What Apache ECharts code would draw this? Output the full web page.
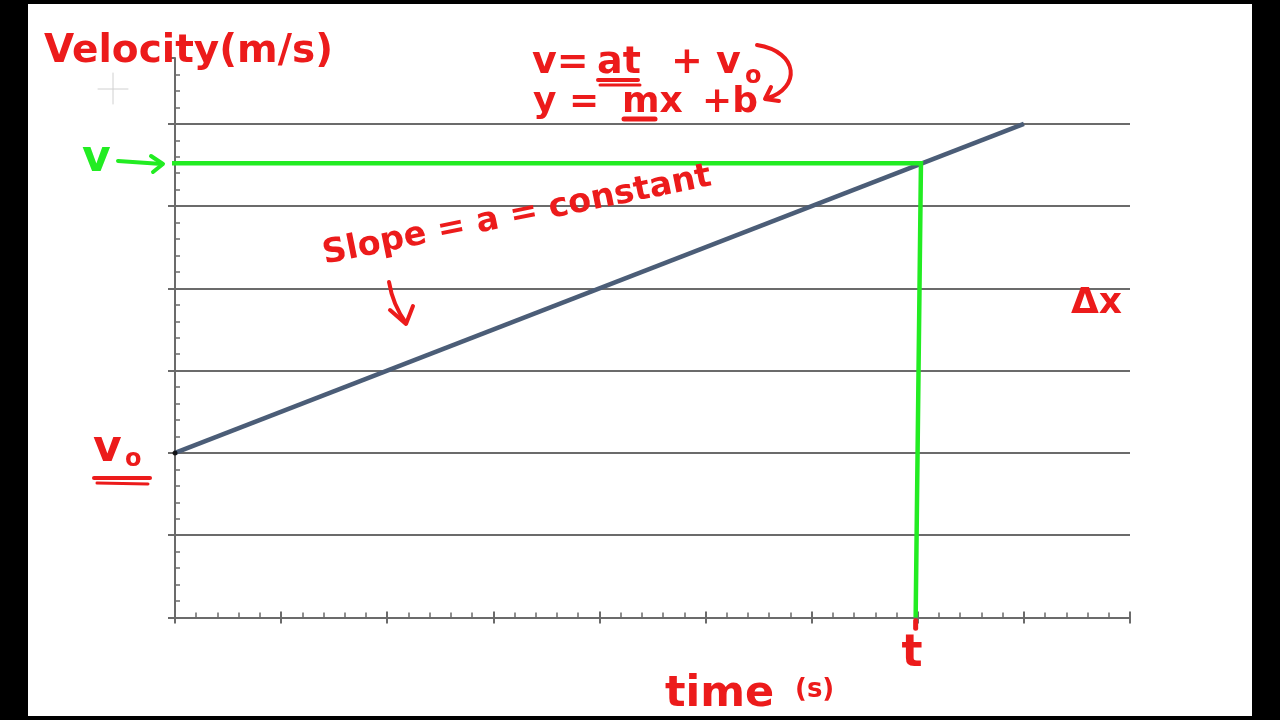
<!DOCTYPE html>
<html><head><meta charset="utf-8">
<script src="https://cdn.jsdelivr.net/npm/echarts@6/dist/echarts.min.js"></script>
<style>
html,body{margin:0;padding:0;background:#000;width:1280px;height:720px;overflow:hidden}
#paper{position:absolute;left:28px;top:4px;width:1224px;height:712px;background:#fff}
#chart{position:absolute;left:0;top:0;width:1280px;height:720px}
</style></head><body>
<div id="paper"></div><div id="chart"></div>
<script>
// ---- data ----
const timeRange = [0, 9];          // time axis (s)
const timeStep = 1;
const velocityRange = [0, 6.8];    // velocity axis (m/s)
const velocityStep = 1;
const minorSplits = 5;
const velocityLine = [[0, 2], [8, 6]];                 // v = a t + v0
const readoutPath = [[-0.066, 5.52], [7.03, 5.52], [6.98, 0]];  // v at time t
const tMarker = [[6.98, -0.04], [6.98, -0.13]];
const v0Point = [[0, 2]];

// ---- styles ----
const GRAY = '#6b6b6b', RED = '#ec1b1b', GREEN = '#22ec22', BLUE = '#4b5d77';
const FONT = '"DejaVu Sans"';
function txt(x, y, text, size, color, extra) {
  return Object.assign({
    type: 'text', x: x, y: y, z: 50,
    style: { text: text, fill: color || RED, font: 'bold ' + size + 'px ' + FONT,
      textAlign: 'left', align: 'left', textVerticalAlign: 'middle', verticalAlign: 'middle' }
  }, extra || {});
}
function seg(x1, y1, x2, y2, color, w) {
  return { type: 'line', z: 50, shape: { x1, y1, x2, y2 },
    style: { stroke: color || RED, lineWidth: w || 4, lineCap: 'round' } };
}
function poly(points, color, w) {
  return { type: 'polyline', z: 50, shape: { points: points },
    style: { stroke: color || RED, lineWidth: w || 4, fill: null, lineCap: 'round', lineJoin: 'round' } };
}

const chart = echarts.init(document.getElementById('chart'));
const axisBase = (min, max, step) => ({ type: 'value', min: min, max: max, interval: step,
  axisLabel: { show: false }, splitLine: { show: false } });

chart.setOption({
  animation: false,
  grid: { left: 175, right: 150, top: 58, bottom: 102.5, containLabel: false },
  xAxis: [
    Object.assign(axisBase(timeRange[0], timeRange[1], timeStep), {
      position: 'bottom', offset: 0,
      axisLine: { show: true, onZero: false, lineStyle: { color: GRAY, width: 2 } },
      axisTick: { show: true, inside: false, length: 6, lineStyle: { color: GRAY, width: 2 } },
      minorTick: { show: false }
    }),
    Object.assign(axisBase(timeRange[0], timeRange[1], timeStep), {
      position: 'bottom', offset: 0,
      axisLine: { show: false, onZero: false },
      axisTick: { show: true, inside: true, length: 6, lineStyle: { color: GRAY, width: 2 } },
      minorTick: { show: true, splitNumber: minorSplits, length: 5, lineStyle: { color: GRAY, width: 1.5 } }
    })
  ],
  yAxis: [
    Object.assign(axisBase(velocityRange[0], velocityRange[1], velocityStep), {
      position: 'left', offset: 0,
      axisLine: { show: true, onZero: false, lineStyle: { color: GRAY, width: 2 } },
      axisTick: { show: true, inside: false, length: 7, lineStyle: { color: GRAY, width: 2 } },
      splitLine: { show: true, showMinLine: false, showMaxLine: false, lineStyle: { color: GRAY, width: 2 } },
      minorTick: { show: false }
    }),
    Object.assign(axisBase(velocityRange[0], velocityRange[1], velocityStep), {
      position: 'left', offset: 0,
      axisLine: { show: false, onZero: false },
      axisTick: { show: false, inside: true },
      minorTick: { show: true, splitNumber: minorSplits, length: 5, lineStyle: { color: GRAY, width: 1.5 } }
    })
  ],
  series: [
    { type: 'line', data: velocityLine, xAxisIndex: 0, yAxisIndex: 0, symbol: 'none', z: 3,
      lineStyle: { color: BLUE, width: 4.5 } },
    { type: 'line', data: readoutPath, xAxisIndex: 0, yAxisIndex: 0, symbol: 'none', clip: false, z: 4,
      lineStyle: { color: GREEN, width: 4.5, join: 'miter' } },
    { type: 'line', data: tMarker, xAxisIndex: 0, yAxisIndex: 0, symbol: 'none', clip: false, z: 4,
      lineStyle: { color: RED, width: 5, cap: 'round' } },
    { type: 'scatter', data: v0Point, xAxisIndex: 0, yAxisIndex: 0, symbolSize: 5, z: 5,
      itemStyle: { color: '#000' } }
  ],
  graphic: { elements: [
    // faint crosshair
    seg(98, 89, 128, 89, '#d0d0d0', 1), seg(113, 73, 113, 104, '#d0d0d0', 1),
    // axis titles
    txt(44, 52, 'Velocity(m/s)', 39),
    txt(665, 695, 'time', 43),
    txt(795, 690, '(s)', 26),
    // equations, row 1: v = at + v0
    txt(532, 63, 'v=', 38),
    txt(597, 63, 'at', 38),
    txt(671, 63, '+ v', 38),
    txt(745, 77, 'o', 24),
    seg(598, 80, 638, 80), seg(600, 85, 640, 85, RED, 3),
    // row 2: y = mx + b
    txt(533, 103, 'y =', 36),
    txt(622, 103, 'mx', 36),
    txt(702, 103, '+b', 36),
    seg(624, 119, 655, 119, RED, 5),
    { type: 'bezierCurve', z: 50, shape: { x1: 757, y1: 45, cpx1: 800, cpy1: 52, cpx2: 800, cpy2: 88, x2: 768, y2: 98 },
      style: { stroke: RED, lineWidth: 4, fill: null, lineCap: 'round' } },
    poly([[771, 87], [765, 99], [779, 101]]),
    // slope label
    txt(325, 265, 'Slope = a = constant', 33, RED, { rotation: 0.2, style: { text: 'Slope = a = constant', x: 0, y: -10,
      fill: RED, font: 'bold 33.5px ' + FONT, textAlign: 'left', align: 'left', textVerticalAlign: 'middle', verticalAlign: 'middle' } }),
    { type: 'bezierCurve', z: 50, shape: { x1: 389, y1: 282, cpx1: 392, cpy1: 300, cpx2: 398, cpy2: 312, x2: 406, y2: 323 },
      style: { stroke: RED, lineWidth: 4, fill: null, lineCap: 'round' } },
    poly([[390, 310], [406, 324], [413, 306]]),
    // v0 label
    txt(93, 450, 'v', 44),
    txt(125, 460, 'o', 24),
    seg(94, 478, 150, 478), seg(97, 483, 148, 484, RED, 3),
    // green v arrow
    txt(82, 160, 'v', 44, GREEN),
    seg(118, 161, 162, 164, GREEN, 4),
    poly([[151, 156], [163, 164], [153, 172]], GREEN, 4),
    // misc
    txt(1071, 304, 'Δx', 36),
    txt(912, 655, 't', 44, RED, { style: { text: 't', fill: RED, font: 'bold 44px ' + FONT,
      textAlign: 'center', align: 'center', textVerticalAlign: 'middle', verticalAlign: 'middle' } })
  ] }
});
</script></body></html>
